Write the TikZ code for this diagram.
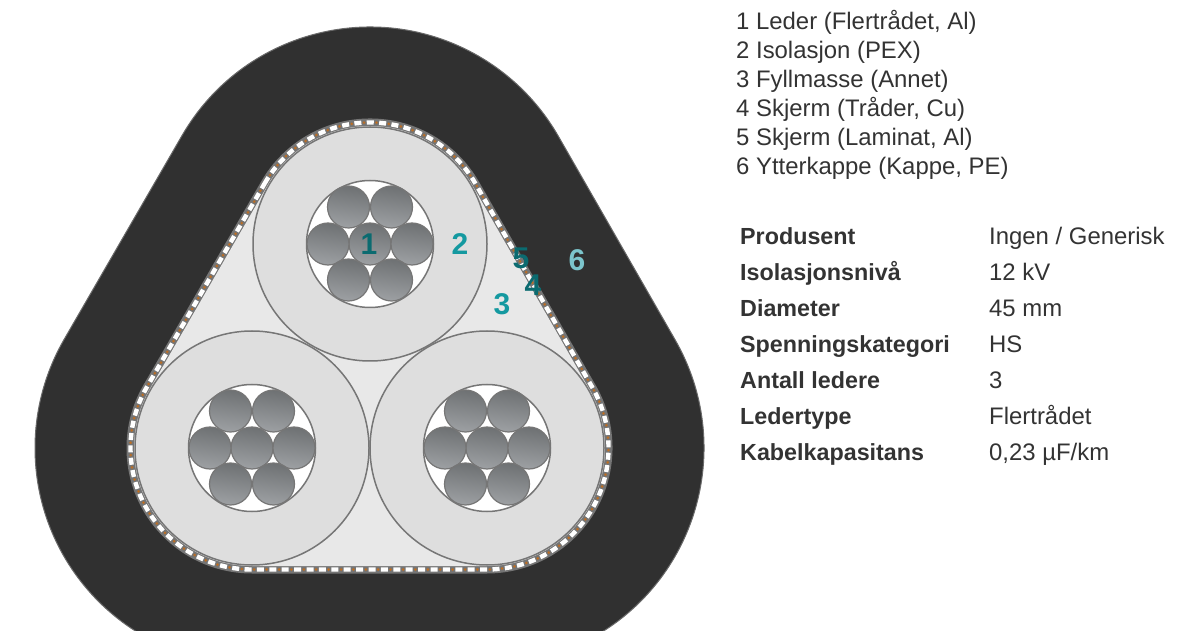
\documentclass[tikz,border=0pt]{standalone}
\usepackage{fontspec}
\setmainfont{Liberation Sans}
\usepackage{tikz}
\definecolor{jacket}{HTML}{303030}
\definecolor{jacketedge}{HTML}{6A6A6A}
\definecolor{bandgrey}{HTML}{757575}
\definecolor{copperdot}{HTML}{B86E28}
\definecolor{filler}{HTML}{E8E8E8}
\definecolor{insul}{HTML}{DEDEDE}
\definecolor{wire}{HTML}{767676}
\definecolor{tealdark}{HTML}{0B6B70}
\definecolor{tealmid}{HTML}{1499A0}
\definecolor{teallight}{HTML}{7CC5CC}
\definecolor{legendtext}{HTML}{333333}
\tikzset{
  strand/.style={draw=wire,line width=1.2pt,top color=strandtop,bottom color=strandbot,shading angle=-8},
  legendrow/.style={anchor=base west,text=legendtext,font=\fontsize{23.9}{28}\selectfont,inner sep=0pt},
  tablekey/.style={legendrow,font=\fontsize{23.3}{28}\selectfont\bfseries},
  partnum/.style={font=\fontsize{30}{30}\selectfont\bfseries,inner sep=0pt},
}
\definecolor{strandtop}{HTML}{6E7173}
\definecolor{strandbot}{HTML}{9DA0A3}
% rounded triangle round the three cable centres
\newcommand{\hullpath}[1]{([shift={(150:#1)}]A) arc[start angle=150,end angle=30,radius=#1]
  -- ([shift={(30:#1)}]C) arc[start angle=30,end angle=-90,radius=#1]
  -- ([shift={(-90:#1)}]B) arc[start angle=-90,end angle=-210,radius=#1] -- cycle}
% one insulated conductor with its seven strands
\newcommand{\cablecore}[1]{
\begin{scope}[shift={(#1)}]
\draw [fill=insul,draw=wire,line width=1.5pt] (0,0) circle (117);
\draw [fill=white,draw=wire,line width=1.5pt] (0,0) circle (63.5);
\foreach \sx/\sy in {0/0,-42/0,42/0,-21.5/37,21.5/37,-21.5/-36,21.5/-36}
  \draw [strand] (\sx,\sy) circle (21);
\end{scope}}

\begin{document}
\begin{tikzpicture}[line cap=butt,line join=round,x=1pt,y=1pt]
\clip (0,0) rectangle (1200,630);
\coordinate (A) at (370,386);
\coordinate (B) at (252,182);
\coordinate (C) at (487,182);

\draw [fill=jacket,draw=jacketedge,line width=1pt] \hullpath{217};
\fill [bandgrey] \hullpath{125.5};
\draw [white,line width=4.4pt,dash pattern=on 7pt off 5.4pt] \hullpath{121.5};
\draw [copperdot,line width=3pt,line cap=round,dash pattern=on 0pt off 12.4pt,dash phase=2.7pt] \hullpath{121.5};
\fill [filler] \hullpath{118};

\cablecore{370,386}
\cablecore{252,182}
\cablecore{487,182}

\node [partnum,text=tealdark] (num1) at (369,385.5) {1};
\node [partnum,text=tealmid] (num2) at (460,385.5) {2};
\node [partnum,text=tealmid] (num3) at (502,325.5) {3};
\node [partnum,text=tealdark] (num4) at (533,344.5) {4};
\node [partnum,text=tealdark] (num5) at (521,371.5) {5};
\node [partnum,text=teallight] (num6) at (577,369.5) {6};

\node [legendrow] (leg1) at (736,600.5) {1 Leder (Flertrådet, Al)};
\node [legendrow] (leg2) at (736,571.5) {2 Isolasjon (PEX)};
\node [legendrow] (leg3) at (736,542.5) {3 Fyllmasse (Annet)};
\node [legendrow] (leg4) at (736,513.5) {4 Skjerm (Tråder, Cu)};
\node [legendrow] (leg5) at (736,484.5) {5 Skjerm (Laminat, Al)};
\node [legendrow] (leg6) at (736,455.5) {6 Ytterkappe (Kappe, PE)};

\node [tablekey] (key1) at (740,385.5) {Produsent};
\node [tablekey] (key2) at (740,349.5) {Isolasjonsnivå};
\node [tablekey] (key3) at (740,313.5) {Diameter};
\node [tablekey] (key4) at (740,277.5) {Spenningskategori};
\node [tablekey] (key5) at (740,241.5) {Antall ledere};
\node [tablekey] (key6) at (740,205.5) {Ledertype};
\node [tablekey] (key7) at (740,169.5) {Kabelkapasitans};

\node [legendrow] (val1) at (989,385.5) {Ingen / Generisk};
\node [legendrow] (val2) at (989,349.5) {12 kV};
\node [legendrow] (val3) at (989,313.5) {45 mm};
\node [legendrow] (val4) at (989,277.5) {HS};
\node [legendrow] (val5) at (989,241.5) {3};
\node [legendrow] (val6) at (989,205.5) {Flertrådet};
\node [legendrow] (val7) at (989,169.5) {0,23 µF/km};
\end{tikzpicture}
\end{document}
